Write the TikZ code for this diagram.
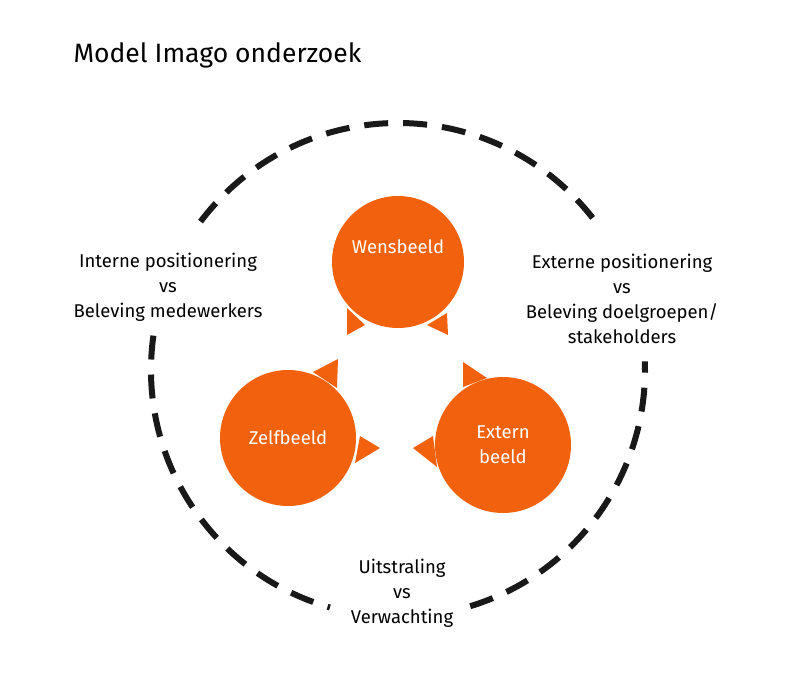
\documentclass[tikz,border=0pt]{standalone}
\usepackage{fontspec}
\setmainfont{Fira Sans}
\usetikzlibrary{positioning}
\definecolor{imago}{RGB}{242,98,14}
\begin{document}
\begin{tikzpicture}[
  x=1pt, y=-1pt,
  bubble/.style={
    circle,
    fill=imago,
    minimum size=136pt,
    inner sep=0pt,
    align=center,
    text=white,
    font=\fontsize{18.5}{25}\selectfont
  },
  tail/.style={fill=imago},
  label/.style={
    align=center,
    font=\fontsize{18.5}{25}\selectfont
  },
  ring/.style={
    line width=6pt,
    dash pattern=on 24pt off 15pt,
    black!90
  }
]
\useasboundingbox (0,0) rectangle (800,693);

\node[anchor=west, font=\fontsize{26.5}{30}\selectfont] (title) at (70,55) {Model Imago onderzoek};

% dashed ring
\coordinate (mid) at (398,370);
\draw[ring] ([shift={(-38:247)}]mid) arc[start angle=-38, end angle=-145, radius=247];
\draw[ring] ([shift={(-172:247)}]mid) arc[start angle=-172, end angle=-254, radius=247];
\draw[ring] ([shift={(-287:247)}]mid) arc[start angle=-287, end angle=-362, radius=247];

% bubbles with their tails
\fill[tail] (347,308) -- (347,335) -- (365,325) -- cycle;
\fill[tail] (447,313) -- (448,335) -- (427,325) -- cycle;
\fill[tail] (313,372) -- (338,359) -- (337,388) -- cycle;
\fill[tail] (360,436) -- (380,448) -- (355,463) -- cycle;
\fill[tail] (463,387) -- (463,362) -- (487,378) -- cycle;
\fill[tail] (433,436) -- (413,448) -- (437,467) -- cycle;
\node[bubble, minimum size=132pt] (wens) at (398,262) {Wensbeeld\\[6pt]};
\node[bubble] (zelf) at (288,438) {Zelfbeeld};
\node[bubble] (extern) at (503,445) {Extern\\beeld};

\node[label] (intern) at (168,287) {Interne positionering\\vs\\Beleving medewerkers};
\node[label] (extpos) at (622,299) {Externe positionering\\vs\\Beleving doelgroepen/\\stakeholders};
\node[label] (uit) at (402,593) {Uitstraling\\vs\\Verwachting};
\end{tikzpicture}
\end{document}
